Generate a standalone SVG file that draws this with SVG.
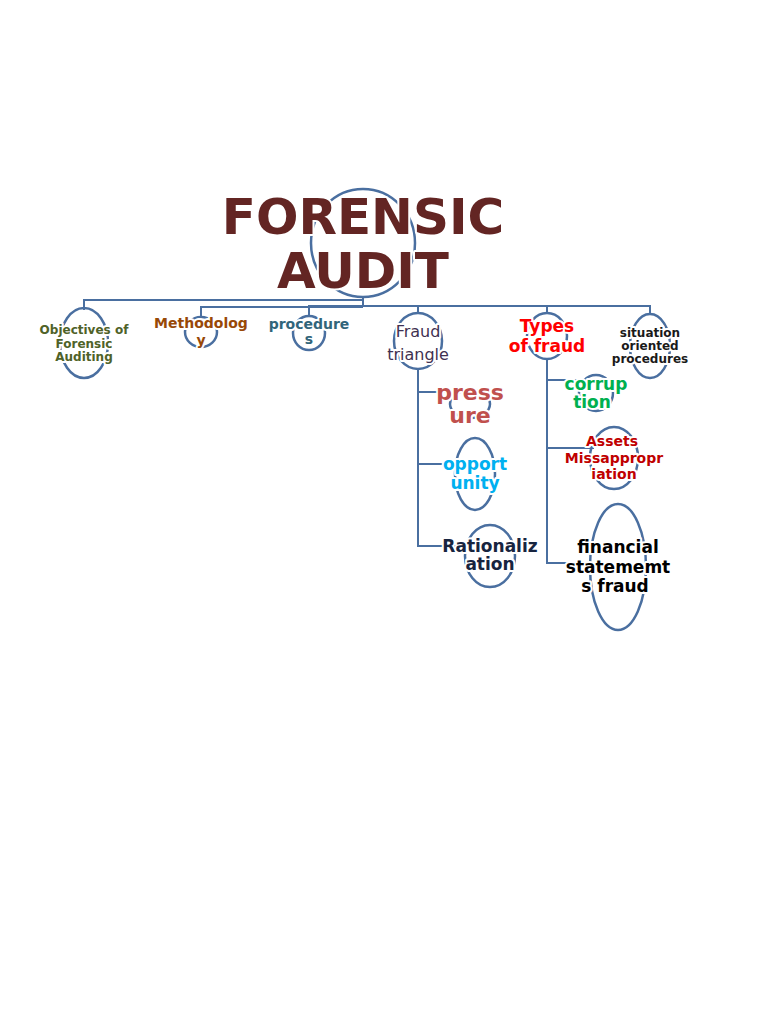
<svg xmlns="http://www.w3.org/2000/svg" width="768" height="1024" viewBox="0 0 768 1024">
<style>
.e{fill:none;stroke:#4a6fa0;stroke-width:2.5}
.c{fill:none;stroke:#4a6fa0;stroke-width:2}
text{font-family:"DejaVu Sans",sans-serif;font-weight:bold;text-anchor:middle;stroke:#fff;stroke-width:4;paint-order:stroke;stroke-linejoin:round}
.n{font-weight:normal}
</style>
<rect width="768" height="1024" fill="#fff"/>
<g id="connectors">
<path class="c" d="M363 298V306M84 310V300H363M201 318V307H363M309 316V306H650V314M418 306V313M547 306V313M418 369V546H470M418 392H468M418 464H455M547 359V563H590M547 380H580M547 448H594"/>
</g>
<g id="root"><ellipse class="e" cx="363" cy="243" rx="52" ry="54"/>
<text x="363" y="234" font-size="50" fill="#632523">FORENSIC</text><text x="363" y="288" font-size="50" fill="#632523">AUDIT</text></g>
<g id="objectives"><ellipse class="e" cx="84" cy="343" rx="24" ry="35"/>
<text x="84" y="334" font-size="12" fill="#4f6228">Objectives of</text><text x="84" y="348" font-size="12" fill="#4f6228">Forensic</text><text x="84" y="361" font-size="12" fill="#4f6228">Auditing</text></g>
<g id="methodology"><ellipse class="e" cx="201" cy="332" rx="16" ry="15"/>
<text x="201" y="328" font-size="14" fill="#984807">Methodolog</text><text x="201" y="345" font-size="14" fill="#984807">y</text></g>
<g id="procedures"><ellipse class="e" cx="309" cy="333" rx="16" ry="17"/>
<text x="309" y="329" font-size="14" fill="#31657a">procedure</text><text x="309" y="344" font-size="14" fill="#31657a">s</text></g>
<g id="fraudtriangle"><ellipse class="e" cx="418" cy="341" rx="24" ry="28"/>
<text class="n" x="418" y="337" font-size="16" fill="#3f3151">Fraud</text><text class="n" x="418" y="360" font-size="16" fill="#3f3151">triangle</text></g>
<g id="types"><ellipse class="e" cx="547" cy="336" rx="20" ry="23"/>
<text x="547" y="332" font-size="17" fill="#ff0000">Types</text><text x="547" y="352" font-size="17" fill="#ff0000">of fraud</text></g>
<g id="situation"><ellipse class="e" cx="650" cy="346" rx="20" ry="32"/>
<text x="650" y="337" font-size="12" fill="#1a1a1a">situation</text><text x="650" y="350" font-size="12" fill="#1a1a1a">oriented</text><text x="650" y="363" font-size="12" fill="#1a1a1a">procedures</text></g>
<g id="pressure"><ellipse class="e" cx="470" cy="404" rx="20" ry="14"/>
<text x="470" y="400" font-size="22" fill="#c0504d">press</text><text x="470" y="423" font-size="22" fill="#c0504d">ure</text></g>
<g id="opportunity"><ellipse class="e" cx="475" cy="474" rx="20" ry="36"/>
<text x="475" y="470" font-size="17" fill="#00b0f0">opport</text><text x="475" y="489" font-size="17" fill="#00b0f0">unity</text></g>
<g id="rationalization"><ellipse class="e" cx="490" cy="556" rx="25" ry="31"/>
<text x="490" y="552" font-size="17" fill="#17243f">Rationaliz</text><text x="490" y="570" font-size="17" fill="#17243f">ation</text></g>
<g id="corruption"><ellipse class="e" cx="596" cy="393" rx="17" ry="18"/>
<text x="596" y="390" font-size="17" fill="#00b050">corrup</text><text x="592" y="408" font-size="17" fill="#00b050">tion</text></g>
<g id="assets"><ellipse class="e" cx="614" cy="458" rx="24" ry="31"/>
<text x="612" y="446" font-size="14" fill="#c00000">Assets</text><text x="614" y="463" font-size="14" fill="#c00000">Missappropr</text><text x="614" y="479" font-size="14" fill="#c00000">iation</text></g>
<g id="financial"><ellipse class="e" cx="618" cy="567" rx="28" ry="63"/>
<text x="618" y="553" font-size="17" fill="#000">financial</text><text x="618" y="573" font-size="17" fill="#000">statememt</text><text x="615" y="592" font-size="17" fill="#000">s fraud</text></g>
</svg>
